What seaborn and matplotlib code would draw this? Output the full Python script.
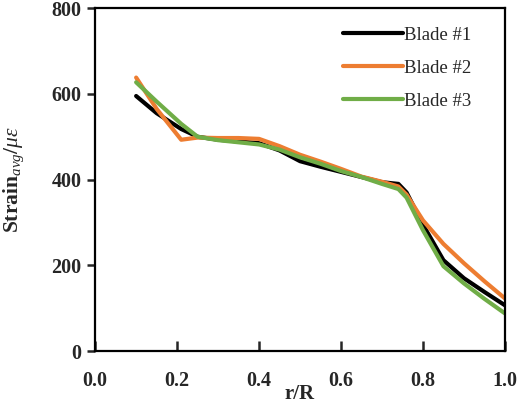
import numpy as np
import pandas as pd
import matplotlib as mpl
mpl.use("Agg")
import matplotlib.pyplot as plt
import seaborn as sns

# Data
r_over_R = [0.10, 0.15, 0.21, 0.25, 0.30, 0.35, 0.40, 0.45, 0.50, 0.55,
            0.60, 0.65, 0.70, 0.74, 0.76, 0.80, 0.85, 0.90, 0.95, 1.00]
blade1 = [595, 555, 518, 500, 493, 489, 485, 468, 443, 430,
          418, 406, 394, 390, 370, 295, 212, 170, 138, 107]
blade2 = [638, 565, 493, 498, 497, 497, 495, 478, 458, 442,
          425, 407, 395, 384, 365, 305, 250, 205, 163, 123]
blade3 = [627, 582, 530, 500, 492, 487, 482, 470, 452, 437,
          420, 406, 390, 378, 358, 282, 198, 158, 122, 88]
labels = ["Blade #1", "Blade #2", "Blade #3"]
colors = {"Blade #1": "#000000", "Blade #2": "#ED7D31", "Blade #3": "#70AD47"}

df = pd.concat([
    pd.DataFrame({"r/R": r_over_R, "Strain": vals, "Blade": name})
    for name, vals in zip(labels, [blade1, blade2, blade3])
])

sns.set_theme(style="white")
plt.rcParams["font.family"] = ["Liberation Serif", "DejaVu Serif"]
plt.rcParams["mathtext.fontset"] = "custom"
plt.rcParams["mathtext.rm"] = "Liberation Serif:bold"
plt.rcParams["mathtext.it"] = "Liberation Serif:italic"

fig = plt.figure(figsize=(5.2, 4.05), dpi=100)
ax = fig.add_axes([0.183, 0.133, 0.788, 0.847])

sns.lineplot(data=df, x="r/R", y="Strain", hue="Blade", palette=colors,
             linewidth=3, sort=False, ax=ax)

ax.set_xlim(0, 1.0)
ax.set_ylim(0, 800)
ax.set_xticks(np.arange(0, 1.01, 0.2))
ax.set_yticks(np.arange(0, 801, 200))
ax.set_xticklabels([f"{v:.1f}" for v in np.arange(0, 1.01, 0.2)])
ax.tick_params(axis="x", direction="in", length=7, width=1.8, labelsize=14.5, pad=14)
ax.tick_params(axis="y", direction="out", length=6, width=1.8, labelsize=14.5, pad=4)
ax.tick_params(bottom=True, left=True)
for lab in ax.get_xticklabels() + ax.get_yticklabels():
    lab.set_fontweight("bold")
for sp in ax.spines.values():
    sp.set_visible(True)
    sp.set_color("black")
    sp.set_linewidth(1.6)

ax.set_xlabel("r/R", fontsize=15, fontweight="bold", labelpad=-5)
ax.set_ylabel(r"Strain$_{\mathit{avg}}$/$\mathit{\mu\varepsilon}$", fontsize=15.5,
              fontweight="bold", labelpad=18)

handles, labs = ax.get_legend_handles_labels()
ax.legend(handles, labs, loc="upper right", frameon=False, fontsize=13.5,
          handlelength=3.2, handletextpad=0.1, labelspacing=0.85,
          bbox_to_anchor=(0.96, 0.995))

fig.savefig("out.png", dpi=100)
